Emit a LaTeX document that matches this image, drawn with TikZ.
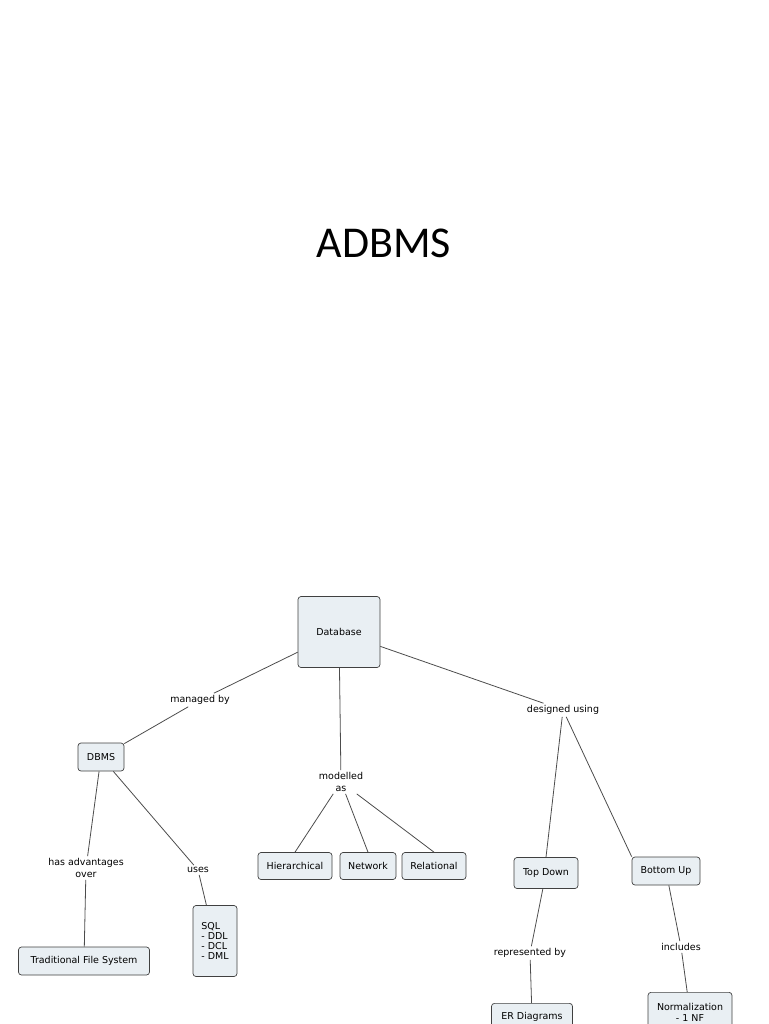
\documentclass[tikz,border=0pt]{standalone}
\usepackage{fontspec}
\setmainfont{DejaVu Sans}
\newfontfamily\titlefont{Carlito}
\begin{document}
\begin{tikzpicture}[x=1pt,y=-1pt,
  box/.style={draw=black!75,line width=0.7pt,rounded corners=3pt,fill={rgb,255:red,233;green,239;blue,243},font=\fontsize{9.5}{11}\selectfont,inner sep=2pt,align=center},
  lbl/.style={font=\fontsize{9.5}{12}\selectfont,align=center,inner sep=2pt},
  ln/.style={draw=black!70,line width=0.8pt}]
\useasboundingbox (0,0) rectangle (768,1024);
\clip (0,0) rectangle (768,1024);
\node[font=\titlefont\fontsize{44}{52}\selectfont] (title) at (384,243) {ADBMS};
\node[box,minimum width=82pt,minimum height=71pt] (db) at (339,632) {Database};
\node[box,minimum width=46pt,minimum height=28pt] (dbms) at (101,757) {DBMS};
\node[box,minimum width=131pt,minimum height=28pt] (tfs) at (84,961) {Traditional File System};
\node[box,minimum width=44pt,minimum height=71pt,align=left] (sql) at (215,941) {SQL\\[-1pt] - DDL\\[-1pt] - DCL\\[-1pt] - DML};
\node[box,minimum width=74pt,minimum height=27pt] (hier) at (295,866) {Hierarchical};
\node[box,minimum width=56pt,minimum height=27pt] (net) at (368,866) {Network};
\node[box,minimum width=64pt,minimum height=27pt] (rel) at (434,866) {Relational};
\node[box,minimum width=64pt,minimum height=31pt] (td) at (546,873) {Top Down};
\node[box,minimum width=68pt,minimum height=28pt] (bu) at (666,871) {Bottom Up};
\node[box,minimum width=81pt,minimum height=27pt,anchor=north] (er) at (532,1003) {ER Diagrams};
\node[box,minimum width=84pt,minimum height=40pt,anchor=north,align=center] (norm) at (690,992) {Normalization\\ - 1 NF};
\node[lbl] (mb) at (200,700) {managed by};
\node[lbl] (ma) at (341,782) {modelled\\as};
\node[lbl] (du) at (563,710) {designed using};
\node[lbl] (ha) at (86,868) {has advantages\\over};
\node[lbl] (us) at (198,870) {uses};
\node[lbl] (rb) at (530,953) {represented by};
\node[lbl] (in) at (681,947) {includes};
\draw[ln] (db) -- (mb); \draw[ln] (mb) -- (dbms);
\draw[ln] (db) -- (ma);
\draw[ln] (ma) -- (hier.north); \draw[ln] (ma) -- (net.north); \draw[ln] (ma) -- (rel.north);
\draw[ln] (db) -- (du); \draw[ln] (du) -- (td.north); \draw[ln] (du) -- (bu.north west);
\draw[ln] (dbms) -- (ha); \draw[ln] (ha) -- (tfs);
\draw[ln] (dbms) -- (us); \draw[ln] (us) -- (sql);
\draw[ln] (td) -- (rb); \draw[ln] (rb) -- (er);
\draw[ln] (bu) -- (in); \draw[ln] (in) -- (norm);
\end{tikzpicture}
\end{document}
